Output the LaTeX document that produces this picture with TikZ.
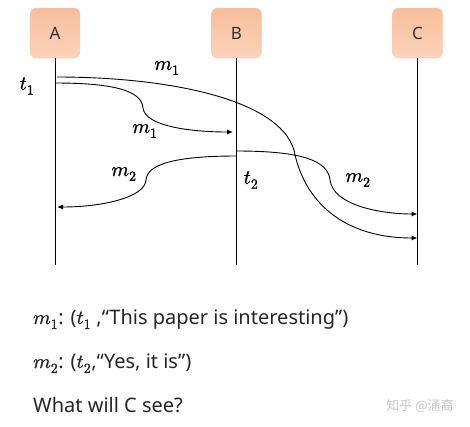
\documentclass[tikz,border=0pt]{standalone}
\usepackage{amsmath, amssymb}
\usepackage{fontspec}
\usepackage{unicode-math}
\setmathfont{Latin Modern Math}[FakeBold=1.2]
\setsansfont{Noto Sans}
\newfontfamily\cjk{Noto Sans CJK SC}
\usetikzlibrary{arrows.meta, positioning}

\definecolor{peachtop}{HTML}{F8BE9C}
\definecolor{peachbot}{HTML}{FCD3BA}

\begin{document}
\begin{tikzpicture}[x=1pt, y=-1pt,
	proc/.style={rounded corners=6pt, minimum size=50pt, top color=peachtop, bottom color=peachbot, draw=peachtop!80!white, font=\sffamily\fontsize{17}{20}\selectfont, text=black!80},
	life/.style={line width=1pt},
	msg/.style={line width=0.9pt, -{Latex[length=6pt, width=5pt]}},
	lbl/.style={font=\fontsize{20}{24}\selectfont},
	txt/.style={anchor=base west, font=\sffamily\fontsize{20}{24}\selectfont, text=black!85, inner sep=0pt}]
	\useasboundingbox (0,0) rectangle (470,426);
	% processes
	\node[proc] (A) at (55,33) {A};
	\node[proc] (B) at (236.5,33) {B};
	\node[proc] (C) at (417.5,33) {C};
	\coordinate (Aend) at (55,265);
	\coordinate (Bend) at (236.5,265);
	\coordinate (Cend) at (417.5,265);
	\foreach \i in {A,B,C} {\draw[life] (\i) -- (\i end);}
	% send / receive points
	\coordinate (a1) at (57,77);
	\coordinate (a2) at (55,83);
	\coordinate (a3) at (57,207);
	\coordinate (b1) at (233,132);
	\coordinate (b2) at (236.5,156);
	\coordinate (b3) at (236.5,151);
	\coordinate (c1) at (417.5,238);
	\coordinate (c2) at (417.5,214);
	% messages
	\draw[msg] (a1) .. controls (165,77) and (278,98) .. (294,150) .. controls (303,198) and (340,238) .. (c1);
	\draw[msg] (a2) .. controls (118,83) and (142,92) .. (143,108) .. controls (145,126) and (190,132) .. (b1);
	\draw[msg] (b2) .. controls (180,156) and (147,163) .. (146,180) .. controls (145,198) and (100,207) .. (a3);
	\draw[msg] (b3) .. controls (300,151) and (328,160) .. (330,180) .. controls (333,205) and (380,214) .. (c2);
	% labels
	\node[lbl] (t1) at (27,86) {$t_1$};
	\node[lbl] (t2) at (251,180) {$t_2$};
	\node[lbl] (m1a) at (167,68) {$m_1$};
	\node[lbl] (m1b) at (145,131) {$m_1$};
	\node[lbl] (m2a) at (124,174) {$m_2$};
	\node[lbl] (m2b) at (358,180) {$m_2$};
	% text below
	\node[txt] (l1) at (33,324) {$m_1$: ($t_1$ ,“This paper is interesting”)};
	\node[txt] (l2) at (33,368) {$m_2$: ($t_2$,“Yes, it is”)};
	\node[txt] (l3) at (33,412) {What will C see?};
	\node[text=black!22, font=\cjk\fontsize{13}{15}\selectfont] (wm) at (420,406) {知乎 @涌裔};
\end{tikzpicture}
\end{document}
